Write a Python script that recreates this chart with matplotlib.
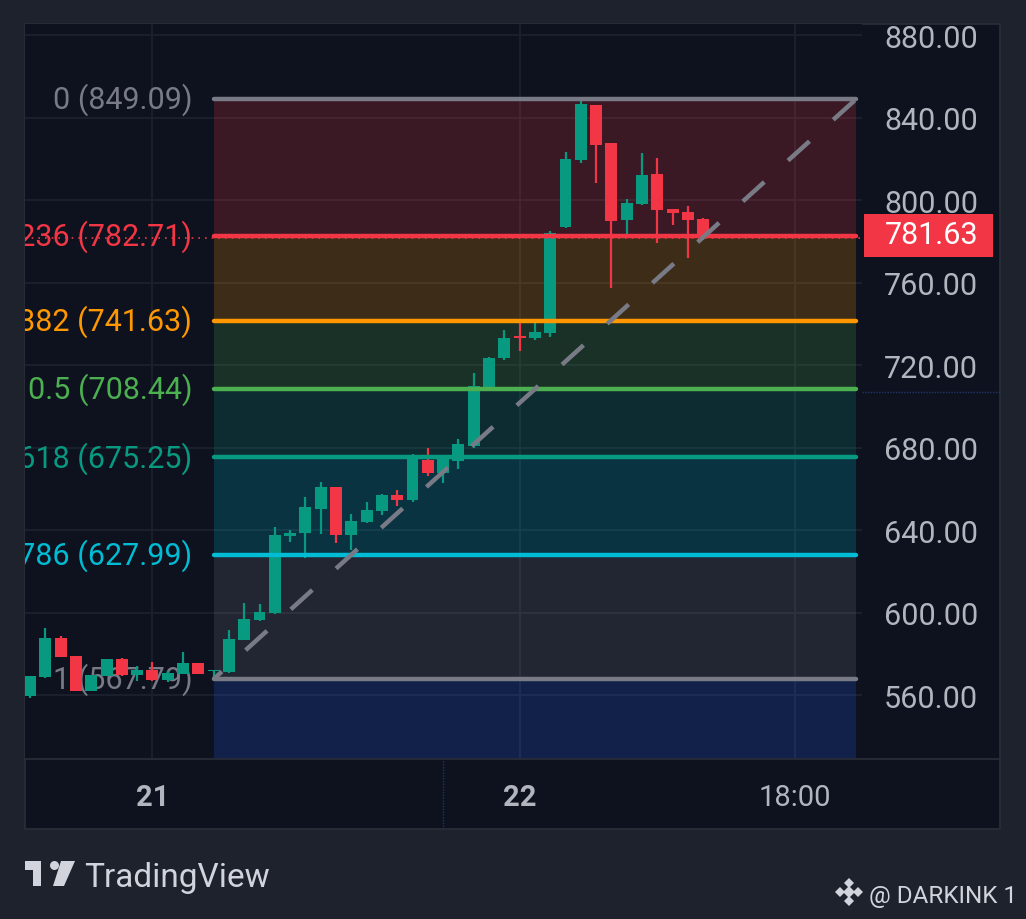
import matplotlib
matplotlib.use('Agg')

import numpy as np
import matplotlib.pyplot as plt
import matplotlib.patches as patches
import matplotlib.transforms as mtransforms
from matplotlib.lines import Line2D

plt.rcParams['font.family'] = ['Roboto', 'DejaVu Sans']

# hourly candles, first one at the 20th 16:00
opens = [559.7, 568.9, 587.6, 578.9, 562.1, 569.4, 577.4, 569.9, 572.1, 567.4,
         570.3, 575.5, 571.5, 571.0, 586.9, 596.5, 599.9, 637.2, 638.5, 650.2,
         660.9, 637.6, 643.9, 649.2, 657.0, 654.5, 673.9, 667.6, 673.5, 680.9,
         708.8, 723.4, 734.0, 733.0, 735.5, 787.1, 819.7, 846.0, 827.6, 790.5,
         798.0, 812.6, 795.6, 794.2, 790.8]
highs = [569.5, 592.5, 588.6, 579.0, 569.9, 577.6, 577.9, 574.3, 576.2, 571.5,
         580.7, 575.6, 572.2, 591.5, 604.9, 604.0, 641.3, 640.0, 656.0, 663.3,
         661.0, 647.8, 653.6, 657.5, 659.4, 676.9, 679.8, 675.0, 684.1, 716.4,
         724.0, 737.0, 740.7, 741.8, 785.0, 823.3, 849.09, 846.2, 827.8, 800.5,
         822.8, 820.4, 795.8, 797.2, 791.3]
lows = [558.7, 568.5, 578.5, 562.0, 562.0, 569.2, 569.5, 567.0, 566.8, 566.5,
        570.0, 570.2, 567.79, 570.5, 586.5, 596.0, 599.5, 634.3, 626.6, 638.0,
        633.7, 630.3, 643.5, 647.3, 651.6, 653.6, 666.2, 662.8, 669.6, 680.0,
        708.5, 722.4, 726.9, 732.0, 733.6, 786.4, 818.1, 808.4, 757.5, 783.2,
        797.5, 779.3, 788.0, 772.0, 780.8]
closes = [569.1, 587.6, 578.7, 562.1, 569.7, 577.4, 569.9, 572.3, 567.4, 570.6,
          575.4, 570.3, 572.0, 587.1, 596.9, 600.2, 637.6, 638.5, 651.2, 660.9,
          637.6, 644.4, 649.7, 657.0, 654.5, 674.4, 667.6, 674.4, 681.7, 709.7,
          723.7, 733.4, 733.0, 736.0, 784.3, 819.9, 846.5, 826.7, 790.0, 798.5,
          812.1, 795.3, 793.9, 790.5, 781.63]

# fibonacci retracement
fib_ratios = ['0', '0.236', '0.382', '0.5', '0.618', '0.786', '1']
fib_values = [849.09, 782.71, 741.63, 708.44, 675.25, 627.99, 567.79]
fib_colors = ['#787b86', '#f23645', '#ff9800', '#4caf50', '#089981', '#00bcd4', '#787b86']
ext_color = '#2962ff'  # 1 -> 1.618 band
fib_start, fib_end = 12, 54

price_ticks = [560, 600, 640, 680, 720, 760, 800, 840, 880]
time_ticks = [8, 32, 50]
time_labels = ['21', '22', '18:00']
last_price = 781.63

up, down = '#089981', '#f23645'
bg = '#0d121e'
outer = '#1e222d'
border = '#2a2e39'
text_c = '#b2b5be'

W, H = 1026, 920
def fx(px):
    return px / W
def fy(py):
    return 1 - py / H

fig = plt.figure(figsize=(W / 100, H / 100), dpi=100, facecolor=outer)

# chart panel
fig.add_artist(patches.Rectangle((fx(25), fy(830)), fx(1000) - fx(25), fy(25) - fy(830),
                                 transform=fig.transFigure, facecolor=bg,
                                 edgecolor=border, lw=1.2, zorder=-1))

ax = fig.add_axes([fx(25), fy(760), fx(862) - fx(25), fy(25) - fy(760)])
ax.set_facecolor(bg)
ax.set_xlim(-0.33, 54.38)
ax.set_ylim(529.0, 885.5)
for s in ax.spines.values():
    s.set_visible(False)

ax.set_axisbelow(True)
ax.grid(True, color='#1d2230', lw=1.2)

# price axis on the right
ax.yaxis.tick_right()
ax.set_yticks(price_ticks)
ax.set_yticklabels([f'{p:.2f}' for p in price_ticks])
ax.tick_params(axis='y', length=0, pad=16, labelsize=22, labelcolor=text_c)

ax.set_xticks(time_ticks)
ax.set_xticklabels(time_labels)
ax.tick_params(axis='x', length=0, pad=17.5, labelsize=21, labelcolor=text_c)
for lab in ax.get_xticklabels()[:2]:
    lab.set_fontweight('bold')

# fib bands
xs = [fib_start, fib_end]
for i in range(1, len(fib_values)):
    ax.fill_between(xs, fib_values[i], fib_values[i - 1], color=fib_colors[i],
                    alpha=0.2, lw=0, zorder=1)
ax.fill_between(xs, ax.get_ylim()[0], fib_values[-1], color=ext_color,
                alpha=0.2, lw=0, zorder=1)

# fib labels
for r, v, c in zip(fib_ratios, fib_values, fib_colors):
    ax.text(10.6, v, f'{r} ({v:.2f})', color=c, fontsize=22, ha='right',
            va='center', zorder=2, clip_on=True)

# candles
idx = np.arange(len(opens))
o = np.array(opens)
c = np.array(closes)
cols = [up if cc >= oo else down for oo, cc in zip(o, c)]
bottom = np.minimum(o, c)
height = np.maximum(np.abs(c - o), 0.8)
ax.vlines(idx, lows, highs, colors=cols, lw=1.6, zorder=3)
ax.bar(idx, height, bottom=bottom, width=0.78, color=cols, lw=0, zorder=3.5)

# fib lines and trend line
for v, col in zip(fib_values, fib_colors):
    ax.plot(xs, [v, v], color=col, lw=3.2, solid_capstyle='round', zorder=4)
ax.plot(xs, [fib_values[-1], fib_values[0]], color='#787b86', lw=3.2,
        ls=(4, (6.5, 7.2)), zorder=4.5)

# last price line and label
ax.axhline(last_price, color=down, lw=1.2, ls=(0, (1, 3)), zorder=6)
blend = mtransforms.blended_transform_factory(ax.transAxes, ax.transData)
box_h = 20.8
box_y = last_price + 1.2
ax.add_patch(patches.Rectangle((1.0024, box_y - box_h / 2), 0.1541, box_h,
                               transform=blend, facecolor=down, lw=0,
                               clip_on=False, zorder=6))
ax.text(1.0275, box_y + 0.6, f'{last_price:.2f}', transform=blend, color='white',
        fontsize=22, ha='left', va='center', zorder=7, clip_on=False)

# crosshair leftovers
ax.plot([27, 27], [-0.095, 0], transform=mtransforms.blended_transform_factory(ax.transData, ax.transAxes),
        color='#1f3566', lw=1, ls=(0, (1, 1)), clip_on=False, zorder=6)
ax.plot([1.0, 1.165], [706.9, 706.9], transform=blend, color='#1f3566', lw=1,
        ls=(0, (1, 1)), clip_on=False, zorder=6)

# time axis separator
fig.add_artist(Line2D([fx(25), fx(1000)], [fy(760), fy(760)], color=border, lw=1.2, zorder=5))

# TradingView logo
logo_c = '#d1d4dc'
tf = fig.transFigure
fig.add_artist(patches.Rectangle((fx(25), fy(871)), fx(41) - fx(25), fy(862) - fy(871),
                                 transform=tf, color=logo_c, lw=0))
fig.add_artist(patches.Rectangle((fx(33.3), fy(887)), fx(41) - fx(33.3), fy(862) - fy(887),
                                 transform=tf, color=logo_c, lw=0))
fig.add_artist(patches.Ellipse((fx(54.5), fy(866.5)), 9 / W, 9 / H, transform=tf,
                               color=logo_c, lw=0))
fig.add_artist(patches.Polygon([(fx(61), fy(862)), (fx(75), fy(862)), (fx(64), fy(887)),
                                (fx(53), fy(887))], closed=True, transform=tf,
                               color=logo_c, lw=0))
fig.text(fx(84), fy(887.5), 'TradingView', fontsize=24, color=logo_c,
         ha='left', va='baseline')

# watermark
for dx, dy, ms in [(0, 0, 6.5), (-9, 0, 5.5), (9, 0, 5.5), (0, -9, 5.5), (0, 9, 5.5)]:
    fig.add_artist(Line2D([fx(849 + dx)], [fy(893 + dy)], marker='D', ms=ms,
                          color=logo_c, mew=0, ls='none'))
fig.text(fx(869), fy(903), '@ DARKINK 1', fontsize=17.5, color=logo_c,
         ha='left', va='baseline')

fig.savefig('out.png', dpi=100, facecolor=outer)
